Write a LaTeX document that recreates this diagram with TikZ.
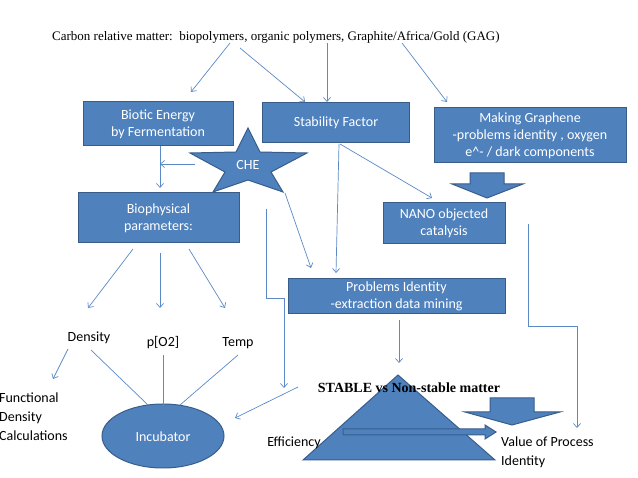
\documentclass[tikz,border=0pt]{standalone}
\usepackage{fontspec}
\setmainfont{Liberation Serif}
\newfontfamily\calfont{Carlito}
\usetikzlibrary{arrows.meta}
\definecolor{bfill}{HTML}{4F81BD}
\definecolor{bdraw}{HTML}{385D8A}
\definecolor{lnc}{HTML}{5B8AC6}
\begin{document}
\begin{tikzpicture}[x=1pt,y=-1pt,
  box/.style={draw=bdraw,line width=1pt,fill=bfill,text=white,font=\calfont\fontsize{14}{17}\selectfont,align=center,inner sep=0pt},
  lbl/.style={font=\calfont\fontsize{14}{19}\selectfont,align=left,inner sep=0pt},
  conn/.style={draw=lnc,line width=0.7pt,-{Straight Barb[length=4pt,width=7pt]}},
  ln/.style={draw=lnc,line width=0.7pt},
  blueshape/.style={draw=bdraw,line width=1pt,fill=bfill}]
\useasboundingbox (0,0) rectangle (638,478);
\fill[white] (0,0) rectangle (638,478);
\node[font=\fontsize{13}{15}\selectfont,anchor=west,inner sep=0pt] (title) at (52,37) {Carbon relative matter:\ \ biopolymers, organic polymers, Graphite/Africa/Gold (GAG)};
\node[box,minimum width=150pt,minimum height=44pt] (bio) at (158,124) {Biotic Energy\\by Fermentation};
\node[box,minimum width=147pt,minimum height=40pt] (stab) at (336,123) {Stability Factor};
\node[box,minimum width=192pt,minimum height=55pt] (graph) at (530,135.5) {Making Graphene\\-problems identity , oxygen\\e\^{}- / dark components};
\node[box,minimum width=161pt,minimum height=50pt] (bph) at (158.5,218) {Biophysical\\parameters:};
\node[box,minimum width=122pt,minimum height=41pt] (nano) at (444,223.5) {NANO objected\\catalysis};
\node[box,minimum width=217pt,minimum height=35pt] (prob) at (396.5,296.5) {Problems Identity\\-extraction data mining};
% star
\path[blueshape] (248,128) -- (260,152) -- (307,153) -- (271,172) -- (283,192) -- (248,180) -- (213,192) -- (225,172) -- (190,153) -- (236,152) -- cycle;
\node[text=white,font=\calfont\fontsize{14}{17}\selectfont] (che) at (248,165) {CHE};
% big arrow under graphene
\path[blueshape] (470,173) -- (504,173) -- (504,184) -- (523,184) -- (487,198) -- (452,184) -- (470,184) -- cycle;
% triangle
\path[blueshape] (398,375) -- (495,460) -- (303,460) -- cycle;
\node[font=\bfseries\fontsize{14}{16}\selectfont,inner sep=0pt] (stable) at (409,388) {STABLE vs Non-stable matter};
\path[blueshape] (343,429) -- (485,429) -- (485,425) -- (496,432) -- (485,439) -- (485,435) -- (343,435) -- cycle;
\path[blueshape] (490,398) -- (534,398) -- (534,412) -- (560,412) -- (512,425) -- (465,412) -- (490,412) -- cycle;
% ellipse
\path[blueshape] (163,436) ellipse [x radius=61,y radius=32];
\node[text=white,font=\calfont\fontsize{14}{17}\selectfont] (inc) at (163,437) {Incubator};
% labels
\node[lbl] (dens) at (89,338) {Density};
\node[lbl] (po2) at (163,343) {p[O2]};
\node[lbl] (temp) at (238,343) {Temp};
\node[lbl,anchor=west] (fdc) at (-1,417) {Functional\\Density\\Calculations};
\node[lbl] (eff) at (294,443) {Efficiency};
\node[lbl,anchor=west] (val) at (501,452) {Value of Process\\Identity};
% coordinates
\coordinate (t1) at (230,43); \coordinate (t2) at (240,48); \coordinate (t3) at (327,43); \coordinate (t4) at (402,43);
\draw[conn] (t1) -- (191,92);
\draw[conn] (t2) -- (305,102);
\draw[conn] (t3) -- (327,102);
\draw[conn] (t4) -- (447,102);
\draw[conn] (160,146) -- (160,188);
\draw[conn] (195,164) -- (160,164);
\draw[conn] (285,193) -- (311,268);
\draw[conn] (339,144) -- (336,273);
\draw[conn] (340,144) -- (432,198);
\draw[conn] (133,249) -- (88,308);
\draw[conn] (160,253) -- (160,308);
\draw[conn] (189,249) -- (225,308);
\draw[conn] (266,209) -- (266,298) -- (284,298) -- (284,388);
\draw[conn] (528,224) -- (528,326) -- (577,326) -- (577,428);
\draw[conn] (399,320) -- (399,363);
\draw[conn] (298,387) -- (235,418);
\draw[conn] (68,349) -- (53,379);
\draw[ln] (91,350) -- (148,405);
\draw[ln] (163,355) -- (163,405);
\draw[ln] (238,355) -- (180,405);
\end{tikzpicture}
\end{document}
